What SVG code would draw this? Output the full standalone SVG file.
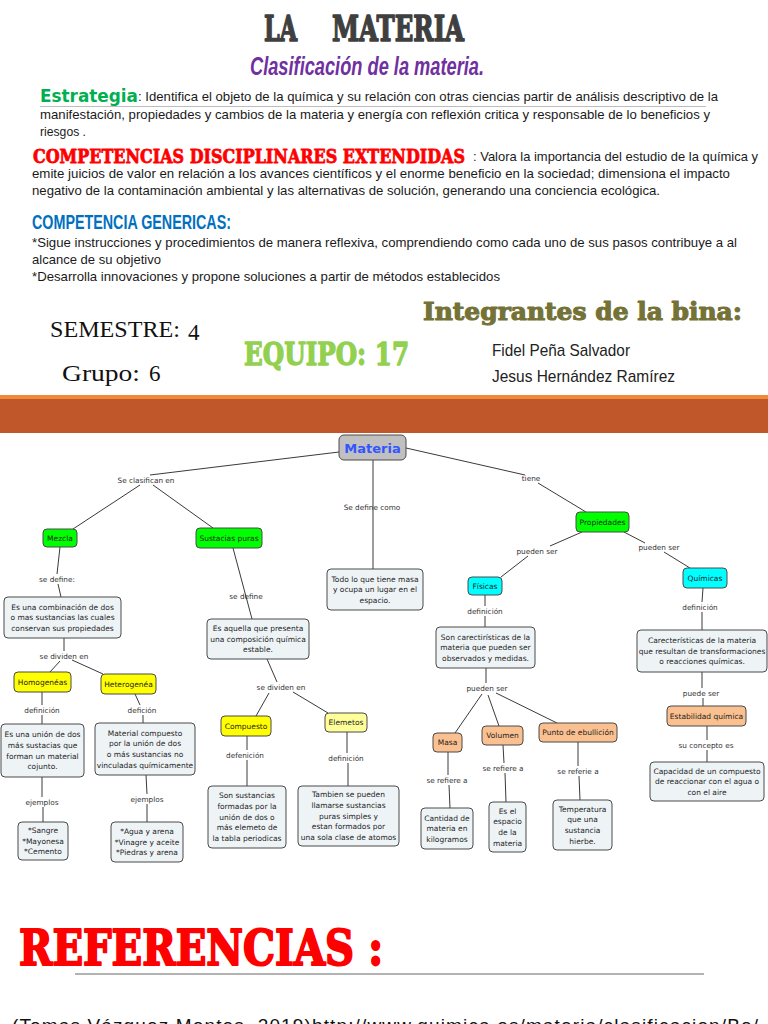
<svg xmlns="http://www.w3.org/2000/svg" width="768" height="1024" viewBox="0 0 768 1024">
<style>
.bg{fill:#ffffff}
.body{font-family:"Liberation Sans",Arial,sans-serif;font-size:13.5px;fill:#1a1a1a}
.slab{font-family:"DejaVu Serif",serif;font-weight:bold;stroke-linejoin:round}
.serif{font-family:"Liberation Serif","Times New Roman",serif;font-size:23px;fill:#111}
.name{font-family:"Liberation Sans",Arial,sans-serif;font-size:17px;fill:#222}
.conn line{stroke:#3a3a3a;stroke-width:1}
.node rect{stroke:#4a4a4a;stroke-width:1}
.box{fill:#eef3f6}
.green{fill:#00ff00}
.cyan{fill:#00ffff}
.yellow{fill:#ffff00}
.lyellow{fill:#ffff99}
.orange{fill:#fac090}
.gray{fill:#c0c0c0}
.nt{font-family:"DejaVu Sans",Verdana,sans-serif;font-size:7.5px;fill:#1e1e1e;text-anchor:middle}
.lbl{font-family:"DejaVu Sans",Verdana,sans-serif;font-size:7.3px;fill:#333;text-anchor:middle}
</style>
<rect class="bg" x="0" y="0" width="768" height="1024"/>

<!-- Header -->
<g id="header">
<text class="slab" x="264" y="41" font-size="36" fill="#3f3f3f" stroke="#3f3f3f" stroke-width="1.6" textLength="33" lengthAdjust="spacingAndGlyphs">LA</text>
<text class="slab" x="332" y="41" font-size="36" fill="#3f3f3f" stroke="#3f3f3f" stroke-width="1.6" textLength="132" lengthAdjust="spacingAndGlyphs">MATERIA</text>
<text x="250" y="75" font-family="Liberation Sans,Arial,sans-serif" font-size="25" font-style="italic" font-weight="bold" fill="#7030a0" textLength="234" lengthAdjust="spacingAndGlyphs">Clasificación de la materia.</text>

<text x="40" y="102" font-family="DejaVu Sans,sans-serif" font-weight="bold" font-size="18" fill="#00b050" textLength="98" lengthAdjust="spacingAndGlyphs">Estrategia</text>
<text class="body" x="138" y="101" textLength="580" lengthAdjust="spacingAndGlyphs">: Identifica el objeto de la química y su relación con otras ciencias partir de análisis descriptivo de la</text>
<line x1="40" y1="106.5" x2="706" y2="106.5" stroke="#bdbdbd" stroke-width="1"/>
<text class="body" x="40" y="119" textLength="670" lengthAdjust="spacingAndGlyphs">manifestación, propiedades y cambios de la materia y energía con reflexión critica  y responsable de lo beneficios y</text>
<text class="body" x="40" y="136" textLength="46" lengthAdjust="spacingAndGlyphs">riesgos .</text>

<text class="slab" x="33" y="163" font-size="19" fill="#ff0000" stroke="#ff0000" stroke-width="0.8" textLength="432" lengthAdjust="spacingAndGlyphs">COMPETENCIAS DISCIPLINARES EXTENDIDAS</text>
<text class="body" x="473" y="161" textLength="285" lengthAdjust="spacingAndGlyphs">: Valora la importancia del estudio de la química y</text>
<text class="body" x="32" y="178" textLength="698" lengthAdjust="spacingAndGlyphs">emite juicios de valor en  relación a los avances científicos y el enorme beneficio en la sociedad;  dimensiona el impacto</text>
<text class="body" x="32" y="195" textLength="628" lengthAdjust="spacingAndGlyphs">negativo de la contaminación ambiental y las  alternativas de solución, generando una conciencia ecológica.</text>

<text x="32" y="229" font-family="Liberation Sans,Arial,sans-serif" font-weight="bold" font-size="21" fill="#0070c0" textLength="199" lengthAdjust="spacingAndGlyphs">COMPETENCIA GENERICAS:</text>
<text class="body" x="32" y="247" textLength="705" lengthAdjust="spacingAndGlyphs">*Sigue instrucciones  y procedimientos de manera reflexiva, comprendiendo como cada uno de sus pasos contribuye a al</text>
<text class="body" x="32" y="264" textLength="129" lengthAdjust="spacingAndGlyphs">alcance de su objetivo</text>
<text class="body" x="32" y="281" textLength="468" lengthAdjust="spacingAndGlyphs">*Desarrolla innovaciones y propone soluciones a partir de métodos establecidos</text>

<text class="serif" x="50" y="337" textLength="130" lengthAdjust="spacingAndGlyphs">SEMESTRE:</text>
<text class="serif" x="188" y="340">4</text>
<text class="serif" x="62" y="381" textLength="78" lengthAdjust="spacingAndGlyphs">Grupo:</text>
<text class="serif" x="149" y="381">6</text>

<text class="slab" x="244" y="365" font-size="32" fill="#92d050" stroke="#92d050" stroke-width="1.4" textLength="165" lengthAdjust="spacingAndGlyphs">EQUIPO: 17</text>
<text class="slab" x="423" y="320" font-size="25" fill="#747236" stroke="#747236" stroke-width="1.1" textLength="319" lengthAdjust="spacingAndGlyphs">Integrantes de la bina:</text>
<text class="name" x="492" y="356" textLength="138" lengthAdjust="spacingAndGlyphs">Fidel Peña Salvador</text>
<text class="name" x="492" y="382" textLength="183" lengthAdjust="spacingAndGlyphs">Jesus Hernández Ramírez</text>

<rect x="0" y="395" width="768" height="4" fill="#f08a3a"/>
<rect x="0" y="399" width="768" height="34" fill="#c0572b"/>
</g>

<!-- Connectors -->
<g id="connectors" class="conn">
<line x1="339" y1="452" x2="150" y2="475"/>
<line x1="140" y1="485" x2="73" y2="529"/>
<line x1="153" y1="485" x2="213" y2="528"/>
<line x1="373" y1="460" x2="373" y2="569"/>
<line x1="406" y1="448" x2="525" y2="475"/>
<line x1="538" y1="483" x2="586" y2="512"/>
<line x1="582" y1="532" x2="550" y2="546"/>
<line x1="528" y1="556" x2="501" y2="577"/>
<line x1="624" y1="532" x2="645" y2="543"/>
<line x1="664" y1="552" x2="690" y2="568"/>
<line x1="60" y1="547" x2="57" y2="574"/>
<line x1="58" y1="584" x2="61" y2="597"/>
<line x1="233" y1="548" x2="252" y2="619"/>
<line x1="485" y1="595" x2="485" y2="606"/>
<line x1="485" y1="616" x2="485" y2="627"/>
<line x1="703" y1="588" x2="702" y2="602"/>
<line x1="702" y1="612" x2="702" y2="630"/>
<line x1="64" y1="638" x2="64" y2="651"/>
<line x1="60" y1="661" x2="50" y2="672"/>
<line x1="72" y1="660" x2="103" y2="674"/>
<line x1="267" y1="659" x2="277" y2="682"/>
<line x1="269" y1="693" x2="256" y2="716"/>
<line x1="293" y1="692" x2="328" y2="713"/>
<line x1="42" y1="692" x2="42" y2="705"/>
<line x1="42" y1="715" x2="42" y2="724"/>
<line x1="135" y1="694" x2="140" y2="705"/>
<line x1="143" y1="715" x2="143" y2="723"/>
<line x1="42" y1="777" x2="42" y2="797"/>
<line x1="43" y1="807" x2="43" y2="822"/>
<line x1="146" y1="775" x2="147" y2="794"/>
<line x1="147" y1="804" x2="147" y2="822"/>
<line x1="247" y1="736" x2="247" y2="750"/>
<line x1="247" y1="760" x2="247" y2="786"/>
<line x1="347" y1="732" x2="347" y2="753"/>
<line x1="348" y1="763" x2="348" y2="786"/>
<line x1="486" y1="668" x2="486" y2="683"/>
<line x1="482" y1="694" x2="455" y2="733"/>
<line x1="488" y1="695" x2="499" y2="726"/>
<line x1="496" y1="693" x2="557" y2="723"/>
<line x1="702" y1="672" x2="702" y2="688"/>
<line x1="703" y1="698" x2="703" y2="706"/>
<line x1="707" y1="726" x2="707" y2="740"/>
<line x1="707" y1="750" x2="707" y2="762"/>
<line x1="448" y1="752" x2="448" y2="775"/>
<line x1="449" y1="785" x2="450" y2="808"/>
<line x1="503" y1="745" x2="504" y2="763"/>
<line x1="505" y1="773" x2="506" y2="802"/>
<line x1="578" y1="742" x2="578" y2="766"/>
<line x1="579" y1="776" x2="580" y2="800"/>
</g>

<!-- Connector labels -->
<g id="labels">
<text class="lbl" x="146" y="482.5">Se clasifican en</text>
<text class="lbl" x="372" y="509.5">Se define como</text>
<text class="lbl" x="531" y="480.5">tiene</text>
<text class="lbl" x="537" y="553.5">pueden ser</text>
<text class="lbl" x="659" y="549.5">pueden ser</text>
<text class="lbl" x="57" y="581.5">se define:</text>
<text class="lbl" x="246" y="598.5">se define</text>
<text class="lbl" x="485" y="613.5">definición</text>
<text class="lbl" x="700" y="609.5">definición</text>
<text class="lbl" x="64" y="658.5">se dividen en</text>
<text class="lbl" x="281" y="689.5">se dividen en</text>
<text class="lbl" x="487" y="690.5">pueden ser</text>
<text class="lbl" x="701" y="695.5">puede ser</text>
<text class="lbl" x="42" y="712.5">definición</text>
<text class="lbl" x="142" y="712.5">defición</text>
<text class="lbl" x="706" y="747.5">su concepto es</text>
<text class="lbl" x="245" y="757.5">defenición</text>
<text class="lbl" x="346" y="760.5">definición</text>
<text class="lbl" x="447" y="782.5">se refiere a</text>
<text class="lbl" x="503" y="770.5">se refiere a</text>
<text class="lbl" x="578" y="773.5">se referie a</text>
<text class="lbl" x="42" y="804.5">ejemplos</text>
<text class="lbl" x="147" y="801.5">ejemplos</text>
</g>

<!-- Nodes -->
<g id="n-materia" class="node"><rect class="gray" x="339" y="435" width="67" height="25" rx="5" stroke-width="1.5"/><text x="372.5" y="452.5" font-family="DejaVu Sans,Verdana,sans-serif" font-weight="bold" font-size="13" fill="#3355ff" text-anchor="middle">Materia</text></g>
<g id="n-mezcla" class="node"><rect class="green" x="43" y="529" width="34" height="18" rx="4"/><text class="nt" x="60" y="540.7">Mezcla</text></g>
<g id="n-sustancias" class="node"><rect class="green" x="196" y="528" width="66" height="20" rx="4"/><text class="nt" x="229" y="540.7">Sustacias puras</text></g>
<g id="n-todo" class="node"><rect class="box" x="327" y="569" width="96" height="41" rx="4"/><text class="nt" x="375" y="581.5">Todo lo que tiene masa</text><text class="nt" x="375" y="592.2">y ocupa un lugar en el</text><text class="nt" x="375" y="602.9">espacio.</text></g>
<g id="n-propiedades" class="node"><rect class="green" x="576" y="512" width="53" height="20" rx="4"/><text class="nt" x="602.5" y="524.7">Propiedades</text></g>
<g id="n-fisicas" class="node"><rect class="cyan" x="468" y="577" width="34" height="18" rx="4"/><text class="nt" x="485" y="588.7">Físicas</text></g>
<g id="n-quimicas" class="node"><rect class="cyan" x="683" y="568" width="44" height="20" rx="4"/><text class="nt" x="705" y="580.7">Químicas</text></g>
<g id="n-mezcla-def" class="node"><rect class="box" x="4" y="597" width="117" height="41" rx="4"/><text class="nt" x="62.5" y="609.5">Es una combinación de dos</text><text class="nt" x="62.5" y="620.2">o mas sustancias  las cuales</text><text class="nt" x="62.5" y="630.9">conservan sus propiedades</text></g>
<g id="n-sust-def" class="node"><rect class="box" x="207" y="619" width="102" height="40" rx="4"/><text class="nt" x="258" y="631">Es aquella que presenta</text><text class="nt" x="258" y="641.7">una composición química</text><text class="nt" x="258" y="652.4">estable.</text></g>
<g id="n-fis-def" class="node"><rect class="box" x="436" y="627" width="99" height="41" rx="4"/><text class="nt" x="485.5" y="639.5">Son carectirísticas de la</text><text class="nt" x="485.5" y="650.2">materia que pueden ser</text><text class="nt" x="485.5" y="660.9">observados y medidas.</text></g>
<g id="n-qui-def" class="node"><rect class="box" x="637" y="630" width="130" height="42" rx="4"/><text class="nt" x="702" y="643">Carecterísticas de la materia</text><text class="nt" x="702" y="653.7">que resultan de transformaciones</text><text class="nt" x="702" y="664.4">o reacciones químicas.</text></g>
<g id="n-homog" class="node"><rect class="yellow" x="14" y="672" width="57" height="20" rx="4"/><text class="nt" x="42.5" y="684.7">Homogenéas</text></g>
<g id="n-hetero" class="node"><rect class="yellow" x="101" y="674" width="55" height="20" rx="4"/><text class="nt" x="128.5" y="686.7">Heterogenéa</text></g>
<g id="n-compuesto" class="node"><rect class="yellow" x="221" y="716" width="50" height="20" rx="4"/><text class="nt" x="246" y="728.7">Compuesto</text></g>
<g id="n-elementos" class="node"><rect class="lyellow" x="325" y="713" width="42" height="19" rx="4"/><text class="nt" x="346" y="725.2">Elemetos</text></g>
<g id="n-homog-def" class="node"><rect class="box" x="1" y="724" width="83" height="53" rx="4"/><text class="nt" x="42.5" y="737.2">Es una unión de dos</text><text class="nt" x="42.5" y="747.9">más sustacias que</text><text class="nt" x="42.5" y="758.6">forman un material</text><text class="nt" x="42.5" y="769.3">cojunto.</text></g>
<g id="n-hetero-def" class="node"><rect class="box" x="95" y="723" width="100" height="52" rx="4"/><text class="nt" x="145" y="735.7">Material compuesto</text><text class="nt" x="145" y="746.4">por la unión de dos</text><text class="nt" x="145" y="757.1">o más sustancias no</text><text class="nt" x="145" y="767.8">vinculadas químicamente</text></g>
<g id="n-sangre" class="node"><rect class="box" x="18" y="822" width="50" height="38" rx="4"/><text class="nt" x="43" y="833">*Sangre</text><text class="nt" x="43" y="843.7">*Mayonesa</text><text class="nt" x="43" y="854.4">*Cemento</text></g>
<g id="n-agua" class="node"><rect class="box" x="111" y="822" width="72" height="40" rx="4"/><text class="nt" x="147" y="834">*Agua y arena</text><text class="nt" x="147" y="844.7">*Vinagre y aceite</text><text class="nt" x="147" y="855.4">*Piedras y arena</text></g>
<g id="n-comp-def" class="node"><rect class="box" x="208" y="786" width="78" height="62" rx="4"/><text class="nt" x="247" y="798.3">Son sustancias</text><text class="nt" x="247" y="809">formadas por la</text><text class="nt" x="247" y="819.7">unión de dos o</text><text class="nt" x="247" y="830.4">más  elemeto de</text><text class="nt" x="247" y="841.1">la tabla  periodicas</text></g>
<g id="n-elem-def" class="node"><rect class="box" x="298" y="786" width="101" height="60" rx="4"/><text class="nt" x="348.5" y="797.3">Tambien se pueden</text><text class="nt" x="348.5" y="808">llamarse sustancias</text><text class="nt" x="348.5" y="818.7">puras  simples y</text><text class="nt" x="348.5" y="829.4">estan formados por</text><text class="nt" x="348.5" y="840.1">una sola clase de atomos</text></g>
<g id="n-masa" class="node"><rect class="orange" x="433" y="733" width="29" height="19" rx="4"/><text class="nt" x="447.5" y="745.2">Masa</text></g>
<g id="n-volumen" class="node"><rect class="orange" x="482" y="726" width="41" height="19" rx="4"/><text class="nt" x="502.5" y="738.2">Volumen</text></g>
<g id="n-punto" class="node"><rect class="orange" x="539" y="723" width="78" height="19" rx="4"/><text class="nt" x="578" y="735.2">Punto de ebullición</text></g>
<g id="n-estabilidad" class="node"><rect class="orange" x="667" y="706" width="79" height="20" rx="4"/><text class="nt" x="706.5" y="718.7">Estabilidad química</text></g>
<g id="n-cantidad" class="node"><rect class="box" x="421" y="808" width="52" height="41" rx="4"/><text class="nt" x="447" y="820.5">Cantidad de</text><text class="nt" x="447" y="831.2">materia en</text><text class="nt" x="447" y="841.9">kilogramos</text></g>
<g id="n-esel" class="node"><rect class="box" x="489" y="802" width="37" height="50" rx="4"/><text class="nt" x="507.5" y="813.7">Es el</text><text class="nt" x="507.5" y="824.4">espacio</text><text class="nt" x="507.5" y="835.1">de la</text><text class="nt" x="507.5" y="845.8">materia</text></g>
<g id="n-temperatura" class="node"><rect class="box" x="553" y="800" width="59" height="50" rx="4"/><text class="nt" x="582.5" y="811.7">Temperatura</text><text class="nt" x="582.5" y="822.4">que una</text><text class="nt" x="582.5" y="833.1">sustancia</text><text class="nt" x="582.5" y="843.8">hierbe.</text></g>
<g id="n-capacidad" class="node"><rect class="box" x="650" y="762" width="114" height="39" rx="4"/><text class="nt" x="707" y="773.5">Capacidad de un compuesto</text><text class="nt" x="707" y="784.2">de reaccionar con el agua o</text><text class="nt" x="707" y="794.9">con el aire</text></g>

<!-- References -->
<g id="referencias">
<text class="slab" x="19" y="965" font-size="48" fill="#ff0000" stroke="#ff0000" stroke-width="2" textLength="364" lengthAdjust="spacingAndGlyphs">REFERENCIAS :</text>
<line x1="75" y1="974" x2="704" y2="974" stroke="#9a9a9a" stroke-width="1.5"/>
<text x="12" y="1032" font-family="Liberation Sans,Arial,sans-serif" font-size="19" fill="#111" textLength="746" lengthAdjust="spacing">(Tomas Vázquez Montes, 2019)http://www.quimica.es/materia/clasificacion/Bo/</text>
</g>
</svg>
